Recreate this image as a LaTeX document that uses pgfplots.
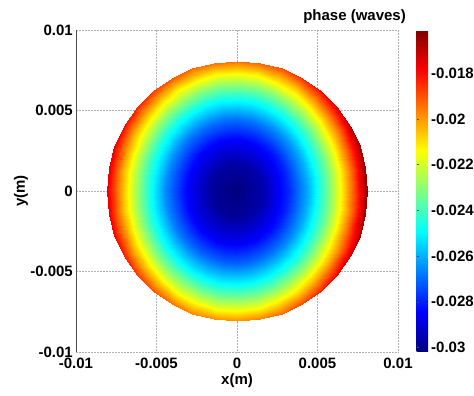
\documentclass[border=0pt]{standalone}
\usepackage{fontspec}
\setmainfont{Liberation Sans}
\usepackage{pgfplots}
\usepackage{pgfplotstable}
\pgfplotsset{compat=1.18}
\pgfkeys{/pgf/number format/.cd,fixed,precision=3,assume math mode=true}
\newcommand{\lblfont}{\fontsize{15bp}{18bp}\selectfont\bfseries}

% t = angle (deg), r = radius (m), v = phase (waves)
\pgfplotstableread{
t r v
0 0 -0.03020
10 0 -0.03020
20 0 -0.03020
30 0 -0.03020
40 0 -0.03020
50 0 -0.03020
60 0 -0.03020
70 0 -0.03020
80 0 -0.03020
90 0 -0.03020
100 0 -0.03020
110 0 -0.03020
120 0 -0.03020
130 0 -0.03020
140 0 -0.03020
150 0 -0.03020
160 0 -0.03020
170 0 -0.03020
180 0 -0.03020
190 0 -0.03020
200 0 -0.03020
210 0 -0.03020
220 0 -0.03020
230 0 -0.03020
240 0 -0.03020
250 0 -0.03020
260 0 -0.03020
270 0 -0.03020
280 0 -0.03020
290 0 -0.03020
300 0 -0.03020
310 0 -0.03020
320 0 -0.03020
330 0 -0.03020
340 0 -0.03020
350 0 -0.03020
360 0 -0.03020
0 0.00162 -0.02956
10 0.00162 -0.02955
20 0.00162 -0.02956
30 0.00162 -0.02958
40 0.00162 -0.02960
50 0.00162 -0.02963
60 0.00162 -0.02966
70 0.00162 -0.02969
80 0.00162 -0.02971
90 0.00162 -0.02973
100 0.00162 -0.02975
110 0.00162 -0.02976
120 0.00162 -0.02977
130 0.00162 -0.02977
140 0.00162 -0.02977
150 0.00162 -0.02977
160 0.00162 -0.02977
170 0.00162 -0.02978
180 0.00162 -0.02978
190 0.00162 -0.02979
200 0.00162 -0.02980
210 0.00162 -0.02982
220 0.00162 -0.02983
230 0.00162 -0.02984
240 0.00162 -0.02984
250 0.00162 -0.02984
260 0.00162 -0.02984
270 0.00162 -0.02982
280 0.00162 -0.02980
290 0.00162 -0.02977
300 0.00162 -0.02973
310 0.00162 -0.02969
320 0.00162 -0.02966
330 0.00162 -0.02962
340 0.00162 -0.02959
350 0.00162 -0.02957
360 0.00162 -0.02956
0 0.00324 -0.02785
10 0.00324 -0.02786
20 0.00324 -0.02789
30 0.00324 -0.02795
40 0.00324 -0.02803
50 0.00324 -0.02812
60 0.00324 -0.02822
70 0.00324 -0.02830
80 0.00324 -0.02837
90 0.00324 -0.02842
100 0.00324 -0.02845
110 0.00324 -0.02846
120 0.00324 -0.02844
130 0.00324 -0.02841
140 0.00324 -0.02837
150 0.00324 -0.02834
160 0.00324 -0.02831
170 0.00324 -0.02830
180 0.00324 -0.02831
190 0.00324 -0.02833
200 0.00324 -0.02837
210 0.00324 -0.02842
220 0.00324 -0.02848
230 0.00324 -0.02854
240 0.00324 -0.02859
250 0.00324 -0.02862
260 0.00324 -0.02862
270 0.00324 -0.02859
280 0.00324 -0.02854
290 0.00324 -0.02846
300 0.00324 -0.02836
310 0.00324 -0.02825
320 0.00324 -0.02814
330 0.00324 -0.02803
340 0.00324 -0.02795
350 0.00324 -0.02788
360 0.00324 -0.02785
0 0.004455 -0.02588
10 0.004455 -0.02589
20 0.004455 -0.02595
30 0.004455 -0.02607
40 0.004455 -0.02621
50 0.004455 -0.02638
60 0.004455 -0.02654
70 0.004455 -0.02669
80 0.004455 -0.02681
90 0.004455 -0.02688
100 0.004455 -0.02692
110 0.004455 -0.02690
120 0.004455 -0.02685
130 0.004455 -0.02678
140 0.004455 -0.02669
150 0.004455 -0.02660
160 0.004455 -0.02654
170 0.004455 -0.02650
180 0.004455 -0.02650
190 0.004455 -0.02654
200 0.004455 -0.02662
210 0.004455 -0.02672
220 0.004455 -0.02684
230 0.004455 -0.02696
240 0.004455 -0.02705
250 0.004455 -0.02712
260 0.004455 -0.02715
270 0.004455 -0.02712
280 0.004455 -0.02704
290 0.004455 -0.02691
300 0.004455 -0.02674
310 0.004455 -0.02656
320 0.004455 -0.02636
330 0.004455 -0.02618
340 0.004455 -0.02603
350 0.004455 -0.02593
360 0.004455 -0.02588
0 0.00567 -0.02331
10 0.00567 -0.02333
20 0.00567 -0.02344
30 0.00567 -0.02362
40 0.00567 -0.02385
50 0.00567 -0.02411
60 0.00567 -0.02436
70 0.00567 -0.02459
80 0.00567 -0.02477
90 0.00567 -0.02487
100 0.00567 -0.02490
110 0.00567 -0.02486
120 0.00567 -0.02476
130 0.00567 -0.02462
140 0.00567 -0.02445
150 0.00567 -0.02430
160 0.00567 -0.02418
170 0.00567 -0.02411
180 0.00567 -0.02410
190 0.00567 -0.02416
200 0.00567 -0.02428
210 0.00567 -0.02445
220 0.00567 -0.02465
230 0.00567 -0.02484
240 0.00567 -0.02502
250 0.00567 -0.02514
260 0.00567 -0.02519
270 0.00567 -0.02517
280 0.00567 -0.02506
290 0.00567 -0.02487
300 0.00567 -0.02462
310 0.00567 -0.02434
320 0.00567 -0.02404
330 0.00567 -0.02377
340 0.00567 -0.02354
350 0.00567 -0.02338
360 0.00567 -0.02331
0 0.00648 -0.02127
10 0.00648 -0.02130
20 0.00648 -0.02144
30 0.00648 -0.02167
40 0.00648 -0.02197
50 0.00648 -0.02230
60 0.00648 -0.02263
70 0.00648 -0.02292
80 0.00648 -0.02314
90 0.00648 -0.02326
100 0.00648 -0.02329
110 0.00648 -0.02323
120 0.00648 -0.02308
130 0.00648 -0.02289
140 0.00648 -0.02266
150 0.00648 -0.02245
160 0.00648 -0.02228
170 0.00648 -0.02218
180 0.00648 -0.02217
190 0.00648 -0.02224
200 0.00648 -0.02240
210 0.00648 -0.02262
220 0.00648 -0.02288
230 0.00648 -0.02314
240 0.00648 -0.02337
250 0.00648 -0.02354
260 0.00648 -0.02362
270 0.00648 -0.02360
280 0.00648 -0.02347
290 0.00648 -0.02324
300 0.00648 -0.02292
310 0.00648 -0.02256
320 0.00648 -0.02219
330 0.00648 -0.02184
340 0.00648 -0.02155
350 0.00648 -0.02135
360 0.00648 -0.02127
0 0.00729 -0.01896
10 0.00729 -0.01900
20 0.00729 -0.01918
30 0.00729 -0.01947
40 0.00729 -0.01985
50 0.00729 -0.02027
60 0.00729 -0.02067
70 0.00729 -0.02103
80 0.00729 -0.02129
90 0.00729 -0.02144
100 0.00729 -0.02147
110 0.00729 -0.02138
120 0.00729 -0.02118
130 0.00729 -0.02092
140 0.00729 -0.02063
150 0.00729 -0.02035
160 0.00729 -0.02013
170 0.00729 -0.02000
180 0.00729 -0.01997
190 0.00729 -0.02006
200 0.00729 -0.02026
210 0.00729 -0.02054
220 0.00729 -0.02087
230 0.00729 -0.02121
240 0.00729 -0.02151
250 0.00729 -0.02173
260 0.00729 -0.02184
270 0.00729 -0.02182
280 0.00729 -0.02167
290 0.00729 -0.02139
300 0.00729 -0.02100
310 0.00729 -0.02056
320 0.00729 -0.02009
330 0.00729 -0.01966
340 0.00729 -0.01931
350 0.00729 -0.01906
360 0.00729 -0.01896
0 0.0081 -0.01638
10 0.0081 -0.01643
20 0.0081 -0.01666
30 0.0081 -0.01702
40 0.0081 -0.01748
50 0.0081 -0.01799
60 0.0081 -0.01849
70 0.0081 -0.01892
80 0.0081 -0.01924
90 0.0081 -0.01941
100 0.0081 -0.01943
110 0.0081 -0.01930
120 0.0081 -0.01905
130 0.0081 -0.01872
140 0.0081 -0.01835
150 0.0081 -0.01800
160 0.0081 -0.01772
170 0.0081 -0.01754
180 0.0081 -0.01751
190 0.0081 -0.01762
200 0.0081 -0.01786
210 0.0081 -0.01821
220 0.0081 -0.01862
230 0.0081 -0.01904
240 0.0081 -0.01942
250 0.0081 -0.01970
260 0.0081 -0.01985
270 0.0081 -0.01984
280 0.0081 -0.01965
290 0.0081 -0.01932
300 0.0081 -0.01886
310 0.0081 -0.01832
320 0.0081 -0.01776
330 0.0081 -0.01723
340 0.0081 -0.01680
350 0.0081 -0.01651
360 0.0081 -0.01638
}\phasedata

\begin{document}
\begin{tikzpicture}
\useasboundingbox (-76bp,-44bp) rectangle (398bp,352bp);
\begin{axis}[
  at={(0,0)}, anchor=south west,
  view={0}{90},
  width=322bp, height=322bp, scale only axis,
  xmin=-0.01, xmax=0.01, ymin=-0.01, ymax=0.01,
  xtick={-0.01,-0.005,0,0.005,0.01},
  ytick={-0.01,-0.005,0,0.005,0.01},
  ztick=\empty,
  scaled ticks=false,
  axis line style={draw=none},
  major tick length=0pt,
  tick label style={font=\lblfont, inner sep=1bp},
  xticklabel style={yshift=-5bp},
  yticklabel style={xshift=-2bp},
  label style={font=\lblfont},
  xlabel={x(m)},
  ylabel={y(m)},
  xlabel style={at={(axis description cs:0.5,-0.088)}, anchor=center},
  ylabel style={at={(axis description cs:-0.1708,0.5)}, anchor=center},
  clip=false,
  colormap/jet,
  point meta min=-0.0302, point meta max=-0.0161,
  colorbar,
  colorbar style={
    at={(parent axis.north east)}, anchor=north west, xshift=10bp,
    width=11.5bp, scale only axis,
    ytick={-0.03,-0.028,-0.026,-0.024,-0.022,-0.02,-0.018},
    scaled y ticks=false,
    axis line style={draw=none},
    ytick pos=left, yticklabel pos=right,
    ytick align=inside,
    major tick length=2.5bp,
    tick style={black!70, line width=0.5bp},
    yticklabel style={font=\lblfont, inner sep=1bp, xshift=2bp},
  },
]
% dotted grid (drawn first so that the disk covers it)
\pgfplotsinvokeforeach{-0.01,-0.005,0,0.005,0.01}{
  \draw[densely dotted, black!30, line width=0.5bp] (axis cs:#1,-0.01,-0.0302) -- (axis cs:#1,0.01,-0.0302);
  \draw[densely dotted, black!30, line width=0.5bp] (axis cs:-0.01,#1,-0.0302) -- (axis cs:0.01,#1,-0.0302);
}
\addplot3[surf, shader=interp, mesh/cols=37, point meta=explicit]
  table[x expr={\thisrow{r}*cos(\thisrow{t})}, y expr={\thisrow{r}*sin(\thisrow{t})}, z=v, meta=v] {\phasedata};
\draw[black!70, line width=0.6bp] (rel axis cs:0,0,0) -- (rel axis cs:0,1,0);
\end{axis}
\node[anchor=east, inner sep=0pt, font=\lblfont] at (330bp,335bp) {phase (waves)};
\end{tikzpicture}
\end{document}
